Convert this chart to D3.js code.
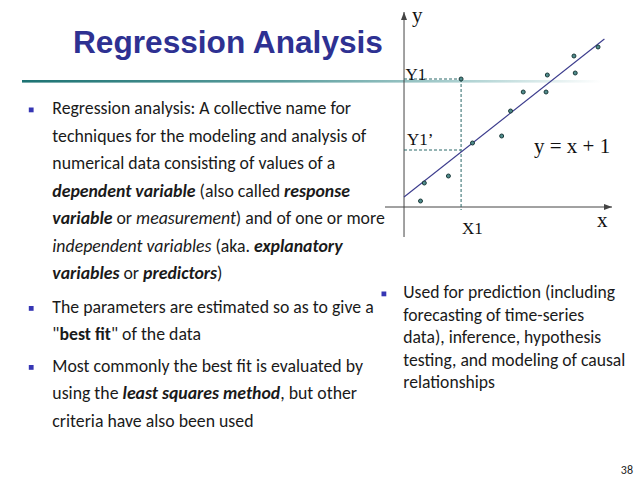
<!DOCTYPE html>
<html>
<head>
<meta charset="utf-8">
<script src="https://cdn.jsdelivr.net/npm/d3@7"></script>
<style>
  body { margin: 0; background: #fff; }
</style>
</head>
<body>
<div id="slide"></div>
<script>
// scatter points, in data units (fit line is y = x + 1)
const pointX = [1.3, 1.6, 3.5, 4.5, 5.4, 7.7, 8.4, 9.4, 11.2, 11.3, 13.4, 13.5, 15.3];
const pointY = [0.6, 2.4, 3.1, 12.8, 6.4, 7.1, 9.6, 11.5, 11.5, 13.2, 15.1, 13.4, 16.0];
// ends of the fitted line
const fitX = [0, 15.8];
const fitY = [1, 16.8];
// the marked observation and its fitted value
const markX = 4.5, markY = 12.8, markYFit = 5.7;
// how far the axes run
const axisX = [-1.5, 16.4];
const axisY = [-3, 19.5];

// slide text
const leftBullets = [
  [
    [["Regression analysis: A collective name for", ""]],
    [["techniques for the modeling and analysis of", ""]],
    [["numerical data consisting of values of a", ""]],
    [["dependent variable", "bi"], [" (also called ", ""], ["response", "bi"]],
    [["variable", "bi"], [" or ", ""], ["measurement", "i"], [") and of one or more", ""]],
    [["independent variables", "i"], [" (aka. ", ""], ["explanatory", "bi"]],
    [["variables", "bi"], [" or ", ""], ["predictors", "bi"], [")", ""]]
  ],
  [
    [["The parameters are estimated so as to give a", ""]],
    [["\"", ""], ["best fit", "b"], ["\" of the data", ""]]
  ],
  [
    [["Most commonly the best fit is evaluated by", ""]],
    [["using the ", ""], ["least squares method", "bi"], [", but other", ""]],
    [["criteria have also been used", ""]]
  ]
];
const leftBaselines = [[114, 141.5, 169, 196.5, 224, 251.5, 279], [312.5, 340], [371.5, 399, 426.5]];

const rightBullets = [
  [
    [["Used for prediction (including", ""]],
    [["forecasting of time-series", ""]],
    [["data), inference, hypothesis", ""]],
    [["testing, and modeling of causal", ""]],
    [["relationships", ""]]
  ]
];
const rightBaselines = [[298, 320.5, 343, 365.5, 388]];

const W = 638, H = 479;
const bodyFont = "Carlito, Lato, sans-serif";
const serif = "'Liberation Serif', 'Times New Roman', serif";

const svg = d3.select("#slide")
  .append("svg")
  .attr("width", W)
  .attr("height", H);

const defs = svg.append("defs");

const grad = defs.append("linearGradient")
  .attr("id", "rule")
  .attr("x1", "0%").attr("x2", "100%");
grad.append("stop").attr("offset", "0%").attr("stop-color", "#1d7373");
grad.append("stop").attr("offset", "45%").attr("stop-color", "#5c9e9e");
grad.append("stop").attr("offset", "80%").attr("stop-color", "#b9d8d8");
grad.append("stop").attr("offset", "100%").attr("stop-color", "#ffffff");

defs.append("marker")
  .attr("id", "arrow")
  .attr("viewBox", "0 0 8 6")
  .attr("markerWidth", 8)
  .attr("markerHeight", 6)
  .attr("markerUnits", "userSpaceOnUse")
  .attr("refX", 8)
  .attr("refY", 3)
  .attr("orient", "auto")
  .append("path")
  .attr("d", "M0,0L8,3L0,6z")
  .attr("fill", "#444");

// title + rule under it
const title = svg.append("text")
  .attr("x", 73)
  .attr("y", 53)
  .style("font-family", "'Liberation Sans', Arial, sans-serif")
  .style("font-weight", "bold")
  .style("font-size", "32px")
  .attr("fill", "#2e3192")
  .text("Regression Analysis");
const tw = title.node().getComputedTextLength();
title.style("font-size", (32 * 310 / tw) + "px");

svg.append("rect")
  .attr("x", 22)
  .attr("y", 80)
  .attr("width", 580)
  .attr("height", 2.6)
  .attr("fill", "url(#rule)");

// ---- the regression sketch ----
const xScale = d3.scaleLinear().domain(axisX).range([385, 612]);
const yScale = d3.scaleLinear().domain(axisY).range([237, 12]);

const chart = svg.append("g").attr("class", "sketch");

// axes (no ticks in the original, just arrows)
chart.append("line")
  .attr("x1", xScale(axisX[0])).attr("y1", yScale(0))
  .attr("x2", xScale(axisX[1])).attr("y2", yScale(0))
  .attr("stroke", "#444").attr("stroke-width", 1)
  .attr("marker-end", "url(#arrow)");
chart.append("line")
  .attr("x1", xScale(0)).attr("y1", yScale(axisY[0]))
  .attr("x2", xScale(0)).attr("y2", yScale(axisY[1]))
  .attr("stroke", "#444").attr("stroke-width", 1)
  .attr("marker-end", "url(#arrow)");

// dashed guides for X1, Y1 and Y1'
const dash = "3,2";
chart.append("line")
  .attr("x1", xScale(markX)).attr("y1", yScale(markY))
  .attr("x2", xScale(markX)).attr("y2", yScale(-0.3))
  .attr("stroke", "#2a6868").attr("stroke-dasharray", dash);
chart.append("line")
  .attr("x1", xScale(0)).attr("y1", yScale(markY))
  .attr("x2", xScale(markX)).attr("y2", yScale(markY))
  .attr("stroke", "#2a6868").attr("stroke-dasharray", dash);
chart.append("line")
  .attr("x1", xScale(0)).attr("y1", yScale(markYFit))
  .attr("x2", xScale(markX)).attr("y2", yScale(markYFit))
  .attr("stroke", "#2a6868").attr("stroke-dasharray", dash);

// fitted line
const fit = fitX.map((d, i) => [d, fitY[i]]);
chart.append("path")
  .datum(fit)
  .attr("d", d3.line().x(d => xScale(d[0])).y(d => yScale(d[1])))
  .attr("stroke", "#3b3b8c")
  .attr("stroke-width", 1.1)
  .attr("fill", "none");

// points
const pts = pointX.map((d, i) => [d, pointY[i]]);
chart.append("g")
  .selectAll("circle")
  .data(pts)
  .join("circle")
  .attr("cx", d => xScale(d[0]))
  .attr("cy", d => yScale(d[1]))
  .attr("r", 2)
  .attr("fill", "#4f8c8c")
  .attr("stroke", "#1c3a3a")
  .attr("stroke-width", 1);

// labels on the sketch
function label(txt, x, y, size, anchor) {
  chart.append("text")
    .attr("x", x).attr("y", y)
    .attr("text-anchor", anchor || "start")
    .style("font-family", serif)
    .style("font-size", size + "px")
    .attr("fill", "#111")
    .text(txt);
}
label("y", xScale(0) + 8, 22, 21);
label("x", 597, 226.5, 21);
label("X1", xScale(markX) + 1, 233.5, 17);
label("Y1", xScale(0) + 1.5, yScale(markY) + 0.5, 17);
label("Y1\u2019", xScale(0) + 3, yScale(markYFit) - 5, 17);
label("y = x + 1", 534, 152.5, 21);

// ---- bullet text ----
function styleSeg(t, s) {
  t.style("font-weight", s.includes("b") ? "bold" : "normal")
   .style("font-style", s.includes("i") ? "italic" : "normal");
}

function drawLine(g, segs, x, y, size) {
  const t = g.append("text")
    .attr("x", x).attr("y", y)
    .style("font-family", bodyFont)
    .style("font-size", size + "px")
    .attr("fill", "#1a1a1a")
    .attr("xml:space", "preserve")
    .style("white-space", "pre");
  segs.forEach(s => styleSeg(t.append("tspan").text(s[0]), s[1]));
  return t;
}

// pick a size that makes the first line as wide as in the picture
function fitSize(segs, target) {
  const probe = drawLine(svg, segs, 0, -50, 18);
  const w = probe.node().getComputedTextLength();
  probe.remove();
  return 18 * target / w;
}

function drawColumn(bullets, baselines, textX, bulletX, size) {
  const g = svg.append("g");
  bullets.forEach((lines, bi) => {
    const base = baselines[bi];
    g.append("rect")
      .attr("x", bulletX).attr("y", base[0] - 6.5)
      .attr("width", 4.8).attr("height", 4.8)
      .attr("fill", "#3636b4");
    lines.forEach((segs, li) => drawLine(g, segs, textX, base[li], size));
  });
}

const leftSize = fitSize(leftBullets[0][0], 299);
const rightSize = fitSize(rightBullets[0][0], 212);
drawColumn(leftBullets, leftBaselines, 52.3, 28.8, leftSize);
drawColumn(rightBullets, rightBaselines, 403.3, 381.5, rightSize);

// slide number
svg.append("text")
  .attr("x", 633).attr("y", 474)
  .attr("text-anchor", "end")
  .style("font-family", bodyFont)
  .style("font-size", "12px")
  .attr("fill", "#1a1a1a")
  .text("38");
</script>
</body>
</html>
